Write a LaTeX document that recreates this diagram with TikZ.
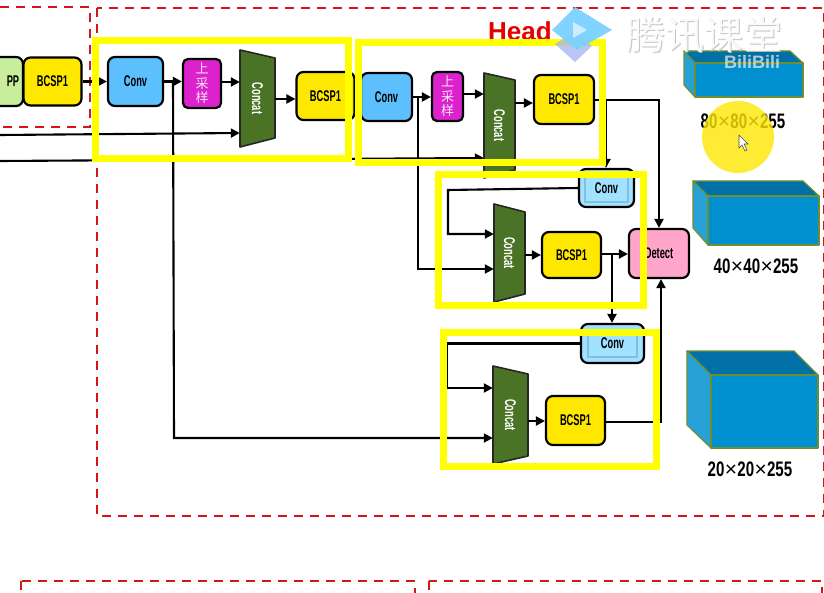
\documentclass[tikz,border=0pt]{standalone}
\usepackage{fontspec}
\setmainfont{Liberation Sans}
\newfontfamily\condfont[FakeStretch=0.60]{Liberation Sans Bold}
\newfontfamily\labfont[FakeStretch=0.72]{Liberation Sans Bold}
\newfontfamily\cjkfont{Noto Sans CJK SC}
\newcommand{\thintimes}{{\normalfont\fontsize{21}{21}\selectfont\kern.3pt×\kern.3pt}}
\usetikzlibrary{arrows.meta}
\definecolor{dashred}{HTML}{D01818}
\definecolor{sppgreen}{HTML}{C8EE9C}
\definecolor{bcspyel}{HTML}{FFE800}
\definecolor{convblue}{HTML}{5CC0FF}
\definecolor{convlight}{HTML}{A0E2FF}
\definecolor{convedge}{HTML}{86BEDC}
\definecolor{upmag}{HTML}{DC22CC}
\definecolor{concatgreen}{HTML}{4A7326}
\definecolor{detpink}{HTML}{FFA6CA}
\definecolor{cubefront}{HTML}{0090D0}
\definecolor{cubeside}{HTML}{28A0D8}
\definecolor{cubetop}{HTML}{0070A6}
\definecolor{cubeedge}{HTML}{6E8F30}
\definecolor{markyel}{HTML}{FFFF00}
\definecolor{logoblue}{HTML}{7AD2FF}
\definecolor{logoviolet}{HTML}{A4B2F4}
\tikzset{
  blockbox/.style={draw=black,line width=2.2pt,rounded corners=7pt,inner sep=0pt,align=center},
  bcspbox/.style={blockbox,fill=bcspyel,font=\condfont\fontsize{15.5}{15.5}\selectfont,minimum width=58pt,minimum height=48pt},
  convbox/.style={blockbox,fill=convblue,font=\condfont\fontsize{15.5}{15.5}\selectfont},
  convlightbox/.style={blockbox,fill=convlight,font=\condfont\fontsize{15.5}{15.5}\selectfont},
  upbox/.style={blockbox,fill=upmag,text=white!88!upmag,rounded corners=5pt,font=\cjkfont\fontsize{13}{14.5}\selectfont},
  detectbox/.style={blockbox,fill=detpink,font=\condfont\fontsize{15.5}{15.5}\selectfont,minimum width=60pt,minimum height=49pt},
  concatshape/.style={fill=concatgreen,draw=black!85,line width=1.6pt,line join=round},
  concatnode/.style={inner sep=0pt,text=white,font=\condfont\fontsize{15.5}{15.5}\selectfont,rotate=-90},
  link/.style={draw=black,line width=2.1pt},
  flow/.style={link,-{Triangle[length=9pt,width=9pt]}},
  regionbox/.style={draw=dashred,line width=2pt,dash pattern=on 9pt off 7pt},
  markbox/.style={draw=markyel,line width=7pt,miter limit=10},
  cubeface/.style={draw=cubeedge,line width=1.2pt,line join=round},
  sizelabel/.style={inner sep=0pt,font=\labfont\fontsize{21}{21}\selectfont},
}
\begin{document}
\begin{tikzpicture}[x=1pt,y=-1pt]
\useasboundingbox (0,0) rectangle (824,593);
\clip (0,0) rectangle (824,593);
\fill[white] (0,0) rectangle (824,593);

% dashed regions
\draw[regionbox] (0,7) -- (90,7) -- (90,127) -- (0,127);
\draw[regionbox] (97,8.5) rectangle (824,516);
\draw[regionbox] (21,581) rectangle (415,600);
\draw[regionbox] (429,581) rectangle (822,600);

\node[inner sep=0pt,anchor=base west,text=red!90!black,font=\bfseries\fontsize{26}{26}\selectfont] (headlabel) at (488,41) {Head};

% cubes
\draw[cubeface,fill=cubetop] (684,51) -- (790,51) -- (803,63) -- (695,63) -- cycle;
\draw[cubeface,fill=cubeside] (684,51) -- (695,63) -- (695,97) -- (684,85) -- cycle;
\draw[cubeface,fill=cubefront] (695,63) rectangle (803,97);
\draw[cubeface,fill=cubetop] (693,181) -- (803,181) -- (819,196) -- (708,196) -- cycle;
\draw[cubeface,fill=cubeside] (693,181) -- (708,196) -- (708,245) -- (693,228) -- cycle;
\draw[cubeface,fill=cubefront] (708,196) rectangle (819,245);
\draw[cubeface,fill=cubetop] (687,351) -- (794,351) -- (818,375) -- (711,375) -- cycle;
\draw[cubeface,fill=cubeside] (687,351) -- (711,375) -- (711,448) -- (687,425) -- cycle;
\draw[cubeface,fill=cubefront] (711,375) rectangle (818,448);

\node[sizelabel] (size80) at (743,121) {80\thintimes 80\thintimes 255};
\node[sizelabel] (size40) at (756,266) {40\thintimes 40\thintimes 255};
\node[sizelabel] (size20) at (750,469) {20\thintimes 20\thintimes 255};

% concat trapezoids
\draw[concatshape] (240,50) -- (275,58) -- (275,138) -- (240,147) -- cycle;
\draw[concatshape] (484,73) -- (515,80) -- (515,170) -- (484,178) -- cycle;
\draw[concatshape] (494,204) -- (525,212) -- (525,294) -- (494,302) -- cycle;
\draw[concatshape] (493,366) -- (528,374) -- (528,456) -- (493,464) -- cycle;

% nodes
\node[blockbox,fill=sppgreen,minimum width=50pt,minimum height=49pt,font=\condfont\fontsize{15.5}{15.5}\selectfont] (spp) at (-2,81.5) {\hspace*{30pt}PP};
\node[bcspbox] (bcspA) at (52.5,81.5) {BCSP1};
\node[convbox,minimum width=55pt,minimum height=49pt] (convA) at (135.5,81.5) {Conv};
\node[upbox,minimum width=38pt,minimum height=49pt] (upA) at (202,83.5) {上\\采\\样};
\node[concatnode,minimum width=97pt,minimum height=35pt] (concatA) at (257.5,98.5) {Concat};
\node[bcspbox] (bcspB) at (325.5,96) {BCSP1};
\node[convbox,minimum width=51pt,minimum height=48pt] (convB) at (386.5,97) {Conv};
\node[upbox,minimum width=31pt,minimum height=49pt] (upB) at (447.5,96.5) {上\\采\\样};
\node[concatnode,minimum width=105pt,minimum height=31pt] (concatB) at (499.5,125.5) {Concat};
\node[bcspbox,minimum width=60pt,minimum height=49pt] (bcspC) at (564,99.5) {BCSP1};
\node[convlightbox,minimum width=55pt,minimum height=38pt] (convC) at (606.5,188) {Conv};
\draw[convedge,line width=1.2pt] (585,175) rectangle (628,202);
\node[concatnode,minimum width=98pt,minimum height=31pt] (concatC) at (509.5,253) {Concat};
\node[bcspbox,minimum width=59pt,minimum height=46pt] (bcspD) at (571.5,255) {BCSP1};
\node[detectbox] (detect) at (659,253.5) {Detect};
\node[convlightbox,minimum width=63pt,minimum height=39pt] (convD) at (612.5,343.5) {Conv};
\draw[convedge,line width=1.2pt] (588,330) rectangle (637,357);
\node[concatnode,minimum width=98pt,minimum height=35pt] (concatD) at (510.5,415) {Concat};
\node[bcspbox,minimum width=59pt,minimum height=49pt] (bcspE) at (575.5,420.5) {BCSP1};

% free ends (the rotated concat nodes: .south is their left side, .north their right side)
\coordinate (inA) at (0,135);
\coordinate (inB) at (0,161);
\coordinate (jctA) at (173,81.5);
\coordinate (jctB) at (418,97);
\coordinate (jctC) at (606,100);
\coordinate (jctD) at (612,254);

% connectors
\draw[flow] (bcspA.east |- 0,81.5) -- (convA.west |- 0,81.5);
\draw[flow] (convA.east |- 0,81.5) -- (upA.west |- 0,81.5);
\draw[flow] (upA.east |- 0,82) -- (concatA.south |- 0,82);
\draw[flow] (concatA.north |- 0,99) -- (bcspB.west |- 0,99);
\draw[flow] (inA) -- (concatA.south |- 0,133);
\draw[flow] (inB) -- (concatB.south |- 0,158);
\draw[flow] (convB.east |- 0,97) -- (upB.west |- 0,97);
\draw[flow] (upB.east |- 0,94) -- (concatB.south |- 0,94);
\draw[flow] (concatB.north |- 0,103) -- (bcspC.west |- 0,103);
\draw[flow] (bcspC.east |- 0,100) -- (detect.north |- 0,100) -- (detect.north);
\draw[flow] (jctC) -- (jctC |- convC.north);
\draw[flow] (jctA) -- (174,438) -- (concatD.south |- 0,438);
\draw[flow] (jctB) -- (418,269) -- (concatC.south |- 0,269);
\draw[flow] (convC.west) -- (448,190) -- (448,234) -- (concatC.south |- 0,234);
\draw[flow] (concatC.north |- 0,255) -- (bcspD.west |- 0,255);
\draw[flow] (bcspD.east |- 0,254) -- (detect.west |- 0,254);
\draw[flow] (jctD) -- (jctD |- convD.north);
\draw[flow] (convD.west) -- (447,343.5) -- (447,388) -- (concatD.south |- 0,388);
\draw[flow] (concatD.north |- 0,421) -- (bcspE.west |- 0,421);
\draw[flow] (bcspE.east |- 0,422) -- (661,422) -- (detect.south -| 661,0);

% yellow markers
\draw[markbox] (95.5,40.5) rectangle (348.5,158.5);
\draw[markbox] (358.5,42.5) rectangle (602.5,162.5);
\draw[markbox] (438.5,174.5) rectangle (643.5,305.5);
\draw[markbox] (443.5,332.5) rectangle (656.5,466.5);

% watermark
\fill[logoviolet,opacity=.75] (555,44) -- (575,62) -- (592,46) -- (575,32) -- cycle;
\fill[logoblue,opacity=.95] (552,30) -- (575,7) -- (612,30) -- (577,50) -- cycle;
\fill[white,opacity=.6] (573,22) -- (587,30) -- (573,38) -- cycle;
\node[inner sep=0pt,text=black!25,opacity=.9,font=\cjkfont\fontsize{39}{39}\selectfont] (markshadow) at (705,36) {腾讯课堂};
\node[inner sep=0pt,text=white,opacity=.9,font=\cjkfont\fontsize{39}{39}\selectfont] (marktext) at (704,35) {腾讯课堂};
\node[inner sep=0pt,text=white!88!black,opacity=.8,font=\bfseries\fontsize{18}{18}\selectfont] (markbili) at (752,62) {BiliBili};

% cursor highlight
\fill[yellow!90!orange,opacity=.8] (738,137) circle (36);
\draw[black!70,fill=white,line width=.6pt,line join=round] (739,135) -- (739,148) -- (742,145) -- (745,151) -- (747,150) -- (744,144) -- (748,144) -- cycle;
\end{tikzpicture}
\end{document}
